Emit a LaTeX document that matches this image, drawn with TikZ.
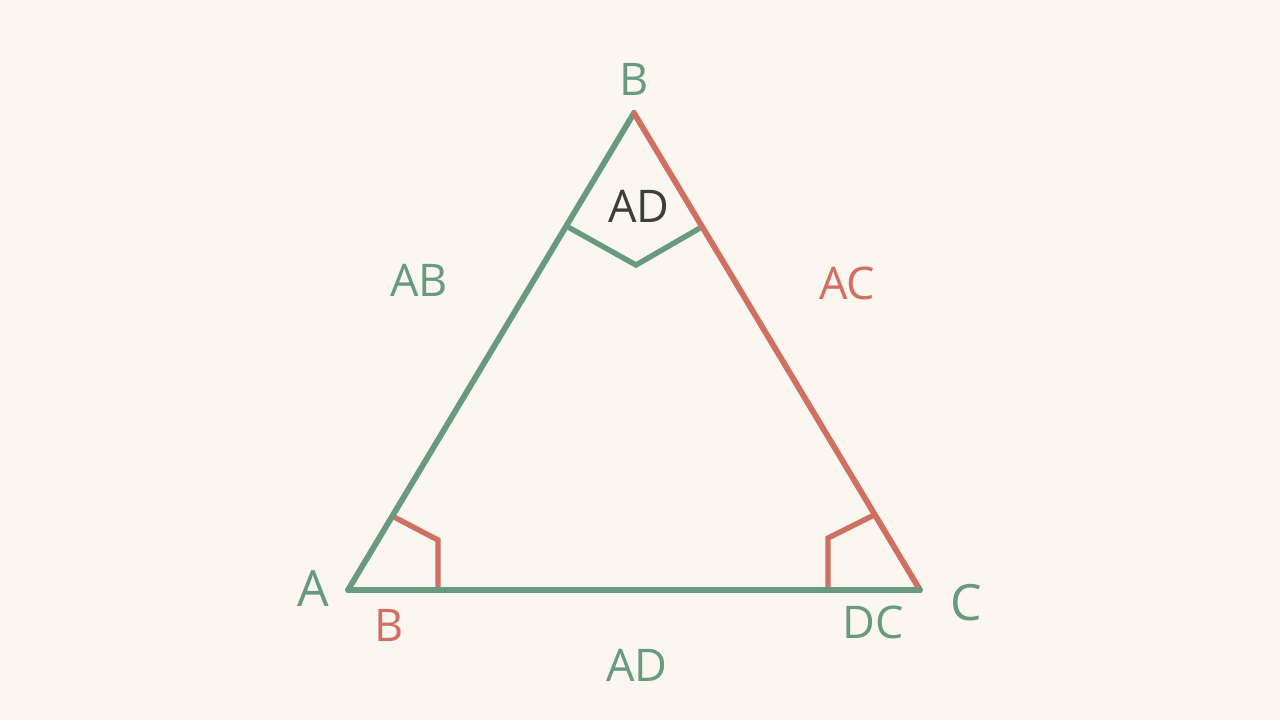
\documentclass[tikz,border=0pt]{standalone}
\usepackage{fontspec}
\setmainfont{Open Sans}
\usepackage{tikz}
\usetikzlibrary{positioning}
\usetikzlibrary{calc}
\definecolor{bgcream}{RGB}{251,246,240}
\definecolor{sidegreen}{RGB}{104,154,128}
\definecolor{sidered}{RGB}{208,112,98}
\definecolor{darktext}{RGB}{62,62,56}
\tikzset{
  % Common styles for the triangle
  side/.style={line width=2.9pt, line join=round, line cap=round},
  anglemark/.style={line width=2.7pt, line join=miter},
  lbl/.style={font=\fontsize{22.5}{26}\selectfont, inner sep=0pt},
  biglbl/.style={font=\fontsize{25}{29}\selectfont, inner sep=0pt}
}

\begin{document}
\begin{tikzpicture}[x=0.5pt, y=-0.5pt]

% Background
\fill[bgcream] (0,0) rectangle (1280,720);
\useasboundingbox (0,0) rectangle (1280,720);

% Vertices
\coordinate (A) at (348,590);
\coordinate (B) at (634,113);
\coordinate (C) at (920,590);

% Angle mark points
\coordinate (bL) at (568,227);
\coordinate (bM) at (636,265);
\coordinate (bR) at (700,228);
\coordinate (aT) at (394,517);
\coordinate (aM) at (438,540);
\coordinate (aB) at (438,590);
\coordinate (cT) at (874,515);
\coordinate (cM) at (828,538);
\coordinate (cB) at (828,590);

% Angle marks
\draw[anglemark, sidegreen] (bL) -- (bM) -- (bR);
\draw[anglemark, sidered] (aT) -- (aM) -- (aB);
\draw[anglemark, sidered] (cT) -- (cM) -- (cB);

% Sides
\draw[side, sidegreen] (A) -- (B);
\draw[side, sidered] (B) -- (C);
\draw[side, sidegreen] (A) -- (C);

% Vertex labels
\node[lbl, text=sidegreen] (labB) at (634,79) {B};
\node[biglbl, text=sidegreen] (labA) at (313,589) {A};
\node[biglbl, text=sidegreen] (labC) at (966,603) {C};

% Side and angle labels
\node[lbl, text=sidegreen] (labAB) at (419,280) {AB};
\node[lbl, text=sidered] (labAC) at (847,283) {AC};
\node[lbl, text=darktext] (labADtop) at (639,206) {AD};
\node[lbl, text=sidered] (labBbot) at (389,625) {B};
\node[lbl, text=sidegreen] (labDC) at (873,622) {DC};
\node[lbl, text=sidegreen] (labADbot) at (637,665) {AD};

\end{tikzpicture}
\end{document}
